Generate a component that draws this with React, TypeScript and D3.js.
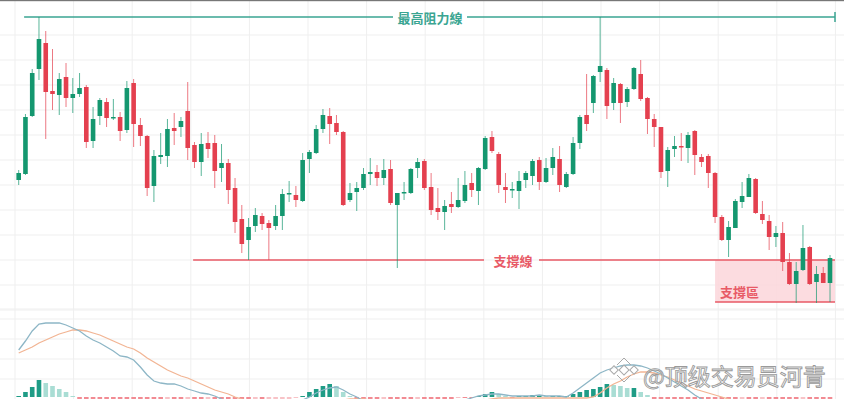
import * as d3 from 'd3'

// candle prices (chart units, higher = higher price)
const opens = [140,146,204,251,277,229,225,243,222,226, 233,179,204,218,202,203,190,237,195,184, 134,163,164,192,193,209,175,158,177,177, 152,157,132,101,80,94,104,97,94,104, 126,125,119,161,167,191,204,197,188,120, 128,132,146,148,142,151,115,127,127,152, 159,133,112,108,116,113,119,137,129,151, 183,166,133,130,129,140,144,160,138,152, 161,133,146,177,205,217,248,250,217,236, 218,231,246,222,201,193,149,171,174,172, 189,163,164,147,103,80,92,118,123,141, 106,99,83,87,58,36,50,73,38,47, 37]
const highs = [150,206,251,303,289,271,247,257,242,247, 235,213,222,222,221,208,239,241,202,185, 170,187,201,207,203,238,178,187,188,185, 176,161,142,115,102,112,107,100,115,131, 139,134,167,170,195,211,212,205,189,137, 138,152,162,155,161,160,127,138,152,162, 161,147,132,120,128,142,149,147,153,184, 189,168,147,138,149,149,161,163,162,172, 174,148,183,205,246,245,303,252,242,237, 233,253,260,223,206,193,173,184,187,188, 190,166,166,148,105,99,121,138,146,142, 119,105,94,98,67,58,95,74,54,53, 65]
const lows = [135,145,203,240,181,210,205,213,207,223, 172,172,195,193,200,179,187,173,174,124, 118,156,153,175,183,160,152,144,162,132, 138,116,87,67,60,88,90,60,90,90, 118,113,118,147,166,187,176,185,114,118, 109,130,135,134,135,115,52,120,126,142, 130,105,100,90,107,112,117,123,115,150, 167,127,117,122,111,132,135,130,137,145, 128,132,145,171,189,207,238,201,210,197, 213,230,219,186,173,142,133,163,159,157, 145,153,132,97,79,63,92,112,123,106, 96,70,73,49,35,17,49,35,17,37, 18]
const closes = [147,203,247,281,228,226,241,222,226,232, 178,201,220,202,203,189,232,196,184,132, 164,165,191,189,199,172,158,176,171,149, 157,130,98,76,93,105,96,92,104,126, 127,120,160,168,191,205,196,188,115,127, 132,146,148,142,150,117,127,128,151,158, 132,110,108,114,113,120,135,130,152,182, 169,135,130,131,139,147,159,138,152,163, 135,146,177,203,196,244,254,214,237,217, 231,252,221,201,193,148,170,174,173,185, 165,158,147,103,80,93,119,124,142,107, 100,83,87,58,36,49,72,36,46,37, 62]

// MACD panel
const macdLine = [47,56,66,73,74,74,74,72,69,66, 61,57,54,50,46,41,40,37,30,22, 16,14,13,13,11,8,6,4,3,1, -2,-5,-9,-14,-18,-20,-19,-17,-15,-12, -9,-6,-3,0,4,7,9,10,7,3, 0,-4,-7,-9,-9,-8,-8,-9,-9,-8, -6,-5,-6,-6,-5,-4,-3,-1,1,2, 3,3,2,1,1,1,1,2,1,1, 1,0,4,9,14,19,24,27,29,31, 32,32,31,29,26,23,19,15,11,7, 2,-2,-6,-10,-14,-18,-20,-21,-22,-22, -23,-24,-25,-26,-27,-28,-29,-29,-30,-30, -30]
const signalLine = [44,47,50,54,57,60,63,65,67,67, 66,64,62,59,56,53,50,48,44,39, 35,31,27,24,21,19,16,13,10,7, 5,3,0,-2,-4,-6,-8,-9,-10,-11, -11,-11,-10,-9,-8,-6,-5,-4,-3,-2, -2,-2,-3,-4,-5,-5,-6,-6,-6,-6, -6,-6,-6,-6,-5,-5,-5,-4,-4,-3, -2,-1,-1,-1,-1,-1,-1,-1,-1,-1, -1,-1,-1,-1,-1,0,4,9,13,16, 20,23,25,25,24,22,20,17,14,11, 8,6,4,2,0,-2,-4,-6,-8,-10, -11,-12,-13,-14,-15,-16,-17,-18,-19,-20, -21]
const histogram = [1,5,10,17,14,11,8,5,1,-3, -5,-6,-6,-7,-7,-8,-8,-8,-9,-9, -9,-9,-8,-8,-8,-7,-7,-7,-6,-6, -6,-6,-7,-7,-7,-6,-6,-5,-4,-3, -2,-1,1,5,8,11,13,11,5,1, -2,-3,-4,-4,-3,-3,-3,-3,-3,-2, -2,-2,-2,-2,-2,-1,-1,-1,1,3, 5,3,1,-1,1,1,2,2,1,1, 1,1,3,5,7,8,10,13,12,11, 9,9,5,2,-2,-4,-6,-8,-9,-10, -10,-10,-10,-10,-10,-10,-10,-9,-9,-9, -8,-8,-8,-8,-8,-8,-7,-7,-7,-7, -7]

const resistanceLevel = 303
const supportLevel = 60
const zoneFloor = 18
const resistanceLabel = '最高阻力線'
const supportLabel = '支撐線'
const zoneLabel = '支撐區'
const watermark = '@顶级交易员河青'

const GREEN = '#14976f'
const RED = '#e4404f'
const TEAL = '#3aa592'
const SUPPORT_RED = '#e85a66'

export default function App() {
  const width = 844
  const height = 399
  const n = opens.length

  const x = d3.scaleLinear().domain([0, n - 1]).range([18.7, 830])
  const y = d3.scaleLinear().domain([0, 320]).range([320, 0])
  const ym = d3.scaleLinear().domain([-10, 90]).range([407, 307])
  const bodyW = 4.6
  const right = 835

  const line = d3
    .line<number>()
    .x((_, i) => x(i))
    .y(v => ym(v))

  const gridX = d3.range(15, 844, 58.6)
  const gridY = d3.range(10, 300, 25).map(p => y(p))
  const gridYm = [18, 38, 58, 78, 88].map(v => ym(v))

  const resY = y(resistanceLevel)
  const supY = y(supportLevel)
  const floorY = y(zoneFloor)
  const resStart = x(0.8)
  const supStart = x(25.8)
  const zoneStart = x(103)

  const cjk = '"Noto Sans CJK TC", "Noto Sans", sans-serif'

  return (
    <svg
      width={width}
      height={height}
      style={{ position: 'absolute', left: 0, top: 0, background: '#fff' }}
    >
      <rect x={0} y={0} width={width} height={height} fill="#fff" />
      {/* grid */}
      {gridX.map((gx, i) => (
        <line key={'gx' + i} x1={gx} x2={gx} y1={0} y2={height} stroke="#efefef" />
      ))}
      {gridY.map((gy, i) => (
        <line key={'gy' + i} x1={0} x2={width} y1={gy} y2={gy} stroke="#efefef" />
      ))}
      {gridYm.map((gy, i) => (
        <line key={'gm' + i} x1={0} x2={width} y1={gy} y2={gy} stroke="#efefef" />
      ))}
      <rect x={0} y={0} width={width} height={1.2} fill="#777" />

      {/* support zone */}
      <rect
        x={zoneStart}
        y={supY}
        width={right - zoneStart}
        height={floorY - supY}
        fill="#fbd6da"
        opacity={0.85}
      />
      <line x1={zoneStart} x2={right} y1={floorY} y2={floorY} stroke={SUPPORT_RED} strokeWidth={1.5} />
      <text
        x={zoneStart + 5}
        y={floorY - 9}
        fill={SUPPORT_RED}
        fontSize={13}
        fontWeight={700}
        fontFamily={cjk}
        dominantBaseline="middle"
      >
        {zoneLabel}
      </text>

      {/* support line */}
      <line x1={supStart} x2={484} y1={supY} y2={supY} stroke={SUPPORT_RED} strokeWidth={1.5} />
      <line x1={539} x2={right} y1={supY} y2={supY} stroke={SUPPORT_RED} strokeWidth={1.5} />
      <text
        x={513}
        y={supY}
        fill={SUPPORT_RED}
        fontSize={13}
        fontWeight={700}
        fontFamily={cjk}
        textAnchor="middle"
        dominantBaseline="central"
      >
        {supportLabel}
      </text>

      {/* resistance line */}
      <line x1={resStart} x2={393} y1={resY} y2={resY} stroke={TEAL} strokeWidth={1.5} />
      <line x1={467} x2={right} y1={resY} y2={resY} stroke={TEAL} strokeWidth={1.5} />
      <line x1={right} x2={right} y1={resY - 5} y2={resY + 5} stroke={TEAL} strokeWidth={1.5} />
      <text
        x={430}
        y={resY}
        fill={TEAL}
        fontSize={13}
        fontWeight={700}
        fontFamily={cjk}
        textAnchor="middle"
        dominantBaseline="central"
      >
        {resistanceLabel}
      </text>

      {/* candles */}
      {opens.map((o, i) => {
        const c = closes[i]
        const up = c >= o
        const col = up ? GREEN : RED
        const top = y(Math.max(o, c))
        const bot = y(Math.min(o, c))
        return (
          <g key={'c' + i}>
            <line
              x1={x(i)}
              x2={x(i)}
              y1={y(highs[i])}
              y2={y(lows[i])}
              stroke={col}
              strokeOpacity={0.7}
              strokeWidth={1}
            />
            <rect
              x={x(i) - bodyW / 2}
              y={top}
              width={bodyW}
              height={Math.max(1.5, bot - top)}
              fill={col}
            />
          </g>
        )
      })}

      {/* MACD histogram */}
      {histogram.map((v, i) => {
        const prev = i > 0 ? histogram[i - 1] : 0
        let fill
        if (v >= 0) fill = v >= prev ? '#1f9c86' : '#a9ddd4'
        else fill = v <= prev ? '#f28b93' : '#f8c3c7'
        const y0 = ym(0)
        const y1 = ym(v)
        return (
          <rect
            key={'h' + i}
            x={x(i) - bodyW / 2}
            y={Math.min(y0, y1)}
            width={bodyW}
            height={Math.abs(y1 - y0)}
            fill={fill}
          />
        )
      })}
      <path d={line(signalLine) || ''} fill="none" stroke="#f2b594" strokeWidth={1.3} />
      <path d={line(macdLine) || ''} fill="none" stroke="#8db6c6" strokeWidth={1.3} />

      {/* watermark */}
      <g transform="translate(624,370)" fill="rgba(255,255,255,0.75)" stroke="#a9a9a9" strokeWidth={1}>
        <rect x={-3.5} y={-3.5} width={7} height={7} transform="rotate(45)" />
        <rect x={-3} y={-3} width={6} height={6} transform="translate(-10,0) rotate(45)" />
        <rect x={-3} y={-3} width={6} height={6} transform="translate(10,0) rotate(45)" />
        <path d="M-7,-5 L0,-12 L7,-5" fill="none" />
        <path d="M-7,5 L0,12 L7,5" fill="none" />
      </g>
      <text
        x={643}
        y={385}
        fontSize={23}
        fontFamily='"Noto Sans CJK SC", sans-serif'
        fill="rgba(255,255,255,0.7)"
        stroke="#9a9a9a"
        strokeWidth={0.9}
      >
        {watermark}
      </text>
    </svg>
  )
}
